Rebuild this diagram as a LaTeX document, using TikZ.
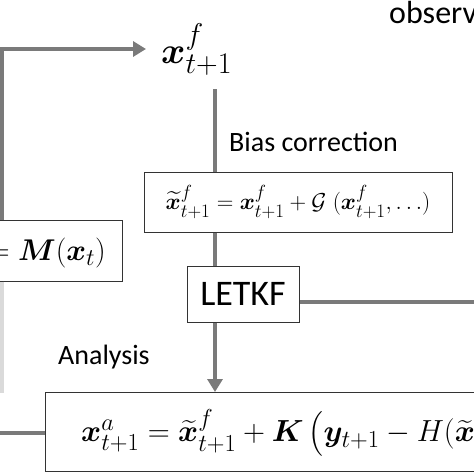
\RequirePackage{fix-cm}
\documentclass[tikz,border=0pt]{standalone}
\usepackage{amsmath,bm}
\usepackage{fontspec}
\setsansfont{Carlito}
\usetikzlibrary{arrows.meta}
\DeclareMathSizes{37}{37}{30}{22}
\DeclareMathSizes{23}{23}{19}{14}
\DeclareMathSizes{30}{30}{24}{18}
\DeclareMathSizes{30.5}{30.5}{24.5}{18}
\definecolor{linegray}{HTML}{7A7A7A}
\definecolor{lightline}{HTML}{DADADA}
\definecolor{boxgray}{HTML}{333333}
\begin{document}
\begin{tikzpicture}[x=1pt,y=-1pt,
  conn/.style={draw=linegray,line width=4.5pt},
  arr/.style={conn,-{Triangle[length=13pt,width=15pt]}},
  box/.style={draw=boxgray,line width=1pt,fill=white,inner sep=0pt},
  lbl/.style={font=\sffamily\fontsize{28}{34}\selectfont,text=black,inner sep=0pt},
  eq/.style={inner sep=0pt}]
\useasboundingbox (0,0) rectangle (474,474);
\clip (0,0) rectangle (474,474);
% boxes
\node[box,minimum width=308pt,minimum height=60pt,font=\fontsize{23}{29}\selectfont] (bias) at (298,202) {$\widetilde{\bm{x}}^f_{t+1} = \bm{x}^f_{t+1} + \mathcal{G}\;(\bm{x}^f_{t+1},\ldots)$};
\node[box,minimum width=112pt,minimum height=56pt,font=\sffamily\fontsize{36}{42}\selectfont] (letkf) at (243,294) {LETKF};
\node[box,minimum width=272pt,minimum height=61pt] (mbox) at (-14,250.5) {};
\node[box,minimum width=600pt,minimum height=79pt,anchor=north west] (ana) at (45,392) {};
% texts
\node[eq,anchor=east,font=\fontsize{30}{36}\selectfont] (mt) at (106,250) {$\bm{x}^f_{t+1} = \bm{M}(\bm{x}_t)$};
\node[eq,anchor=west,font=\fontsize{30.5}{36}\selectfont] (anat) at (81,433) {$\bm{x}^a_{t+1} = \widetilde{\bm{x}}^f_{t+1} + \bm{K}\left(\bm{y}_{t+1} - H(\widetilde{\bm{x}}^f_{t+1})\right)$};
\node[eq,font=\fontsize{37}{44}\selectfont,anchor=base west] (xf) at (161,63) {$\bm{x}^f_{t+1}$};
\node[lbl,anchor=west] (bc) at (229,142) {Bias correction};
\node[lbl,anchor=west] (an) at (58,357) {Analysis};
\node[lbl,anchor=base west,font=\sffamily\fontsize{32}{38}\selectfont] (obs) at (389,23) {observ};
% connectors
\coordinate (topleft) at (2,49);
\coordinate (arrend) at (146,49);
\coordinate (xfbot) at (215,89);
\coordinate (lowleft) at (2,393);
\coordinate (botleft) at (0,433);
\coordinate (rightend) at (480,302);
\draw[conn] (mbox.north -| topleft) -- (topleft);
\draw[arr] ([xshift=-2.25pt]topleft) -- (arrend);
\draw[conn] (xfbot) -- (bias.north -| xfbot);
\draw[conn] (bias.south -| xfbot) -- (letkf.north -| xfbot);
\draw[arr] (letkf.south -| xfbot) -- (ana.north -| xfbot);
\draw[conn] (letkf.east |- rightend) -- (rightend);
\draw[draw=lightline,line width=4.5pt] (mbox.south -| lowleft) -- (lowleft);
\draw[conn] (botleft) -- (ana.west |- botleft);
\end{tikzpicture}
\end{document}
